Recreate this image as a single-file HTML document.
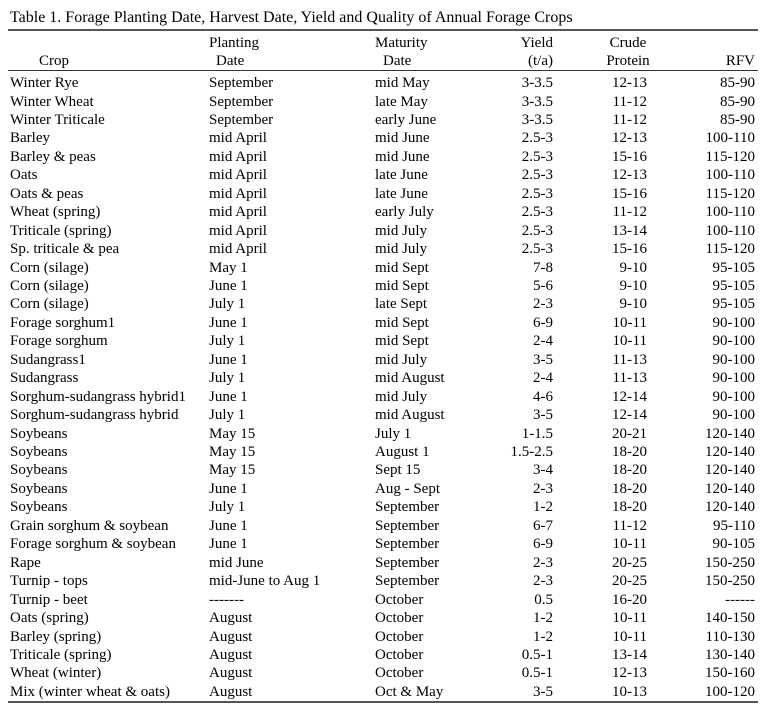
<!DOCTYPE html>
<html><head><meta charset="utf-8"><style>
body{margin:0;width:768px;height:716px;background:#fff;position:relative;font-family:"Liberation Serif",serif;font-size:15px;color:#000;overflow:hidden}
.t{position:absolute;white-space:nowrap;line-height:18px}
.r{text-align:right}
.c{text-align:center}
.ln{position:absolute;left:8px;width:750px;background:#555}
</style></head><body>
<div class="t" style="left:10px;top:9px;font-size:16px">Table 1. Forage Planting Date, Harvest Date, Yield and Quality of Annual Forage Crops</div>
<div class="ln" style="top:29px;height:2px"></div>
<div class="ln" style="top:70px;height:1px;background:#333"></div>
<div class="ln" style="top:701px;height:2px"></div>
<div class="t" style="left:209px;top:34px">Planting</div>
<div class="t" style="left:216px;top:52px">Date</div>
<div class="t" style="left:39px;top:52px">Crop</div>
<div class="t" style="left:375px;top:34px">Maturity</div>
<div class="t" style="left:383px;top:52px">Date</div>
<div class="t r" style="left:480px;width:73px;top:34px">Yield</div>
<div class="t r" style="left:480px;width:73px;top:52px">(t/a)</div>
<div class="t c" style="left:598px;width:60px;top:34px">Crude</div>
<div class="t c" style="left:598px;width:60px;top:52px">Protein</div>
<div class="t r" style="left:680px;width:75px;top:52px">RFV</div>
<div id="rows"></div>
<script>
var d=[
["Winter Rye","September","mid May","3-3.5","12-13","85-90"],
["Winter Wheat","September","late May","3-3.5","11-12","85-90"],
["Winter Triticale","September","early June","3-3.5","11-12","85-90"],
["Barley","mid April","mid June","2.5-3","12-13","100-110"],
["Barley & peas","mid April","mid June","2.5-3","15-16","115-120"],
["Oats","mid April","late June","2.5-3","12-13","100-110"],
["Oats & peas","mid April","late June","2.5-3","15-16","115-120"],
["Wheat (spring)","mid April","early July","2.5-3","11-12","100-110"],
["Triticale (spring)","mid April","mid July","2.5-3","13-14","100-110"],
["Sp. triticale & pea","mid April","mid July","2.5-3","15-16","115-120"],
["Corn (silage)","May 1","mid Sept","7-8","9-10","95-105"],
["Corn (silage)","June 1","mid Sept","5-6","9-10","95-105"],
["Corn (silage)","July 1","late Sept","2-3","9-10","95-105"],
["Forage sorghum1","June 1","mid Sept","6-9","10-11","90-100"],
["Forage sorghum","July 1","mid Sept","2-4","10-11","90-100"],
["Sudangrass1","June 1","mid July","3-5","11-13","90-100"],
["Sudangrass","July 1","mid August","2-4","11-13","90-100"],
["Sorghum-sudangrass hybrid1","June 1","mid July","4-6","12-14","90-100"],
["Sorghum-sudangrass hybrid","July 1","mid August","3-5","12-14","90-100"],
["Soybeans","May 15","July 1","1-1.5","20-21","120-140"],
["Soybeans","May 15","August 1","1.5-2.5","18-20","120-140"],
["Soybeans","May 15","Sept 15","3-4","18-20","120-140"],
["Soybeans","June 1","Aug - Sept","2-3","18-20","120-140"],
["Soybeans","July 1","September","1-2","18-20","120-140"],
["Grain sorghum & soybean","June 1","September","6-7","11-12","95-110"],
["Forage sorghum & soybean","June 1","September","6-9","10-11","90-105"],
["Rape","mid June","September","2-3","20-25","150-250"],
["Turnip - tops","mid-June to Aug 1","September","2-3","20-25","150-250"],
["Turnip - beet","-------","October","0.5","16-20","------"],
["Oats (spring)","August","October","1-2","10-11","140-150"],
["Barley (spring)","August","October","1-2","10-11","110-130"],
["Triticale (spring)","August","October","0.5-1","13-14","130-140"],
["Wheat (winter)","August","October","0.5-1","12-13","150-160"],
["Mix (winter wheat & oats)","August","Oct & May","3-5","10-13","100-120"]];
var h="";
d.forEach(function(r,i){var y=(74+i*18.45).toFixed(1);
h+='<div class="t" style="left:10px;top:'+y+'px">'+r[0]+'</div>'+
'<div class="t" style="left:209px;top:'+y+'px">'+r[1]+'</div>'+
'<div class="t" style="left:375px;top:'+y+'px">'+r[2]+'</div>'+
'<div class="t r" style="left:460px;width:93px;top:'+y+'px">'+r[3]+'</div>'+
'<div class="t r" style="left:580px;width:67px;top:'+y+'px">'+r[4]+'</div>'+
'<div class="t r" style="left:680px;width:75px;top:'+y+'px">'+r[5]+'</div>';});
document.getElementById("rows").innerHTML=h.replace(/&(?![a-z]+;)/g,"&amp;");
</script>
</body></html>
